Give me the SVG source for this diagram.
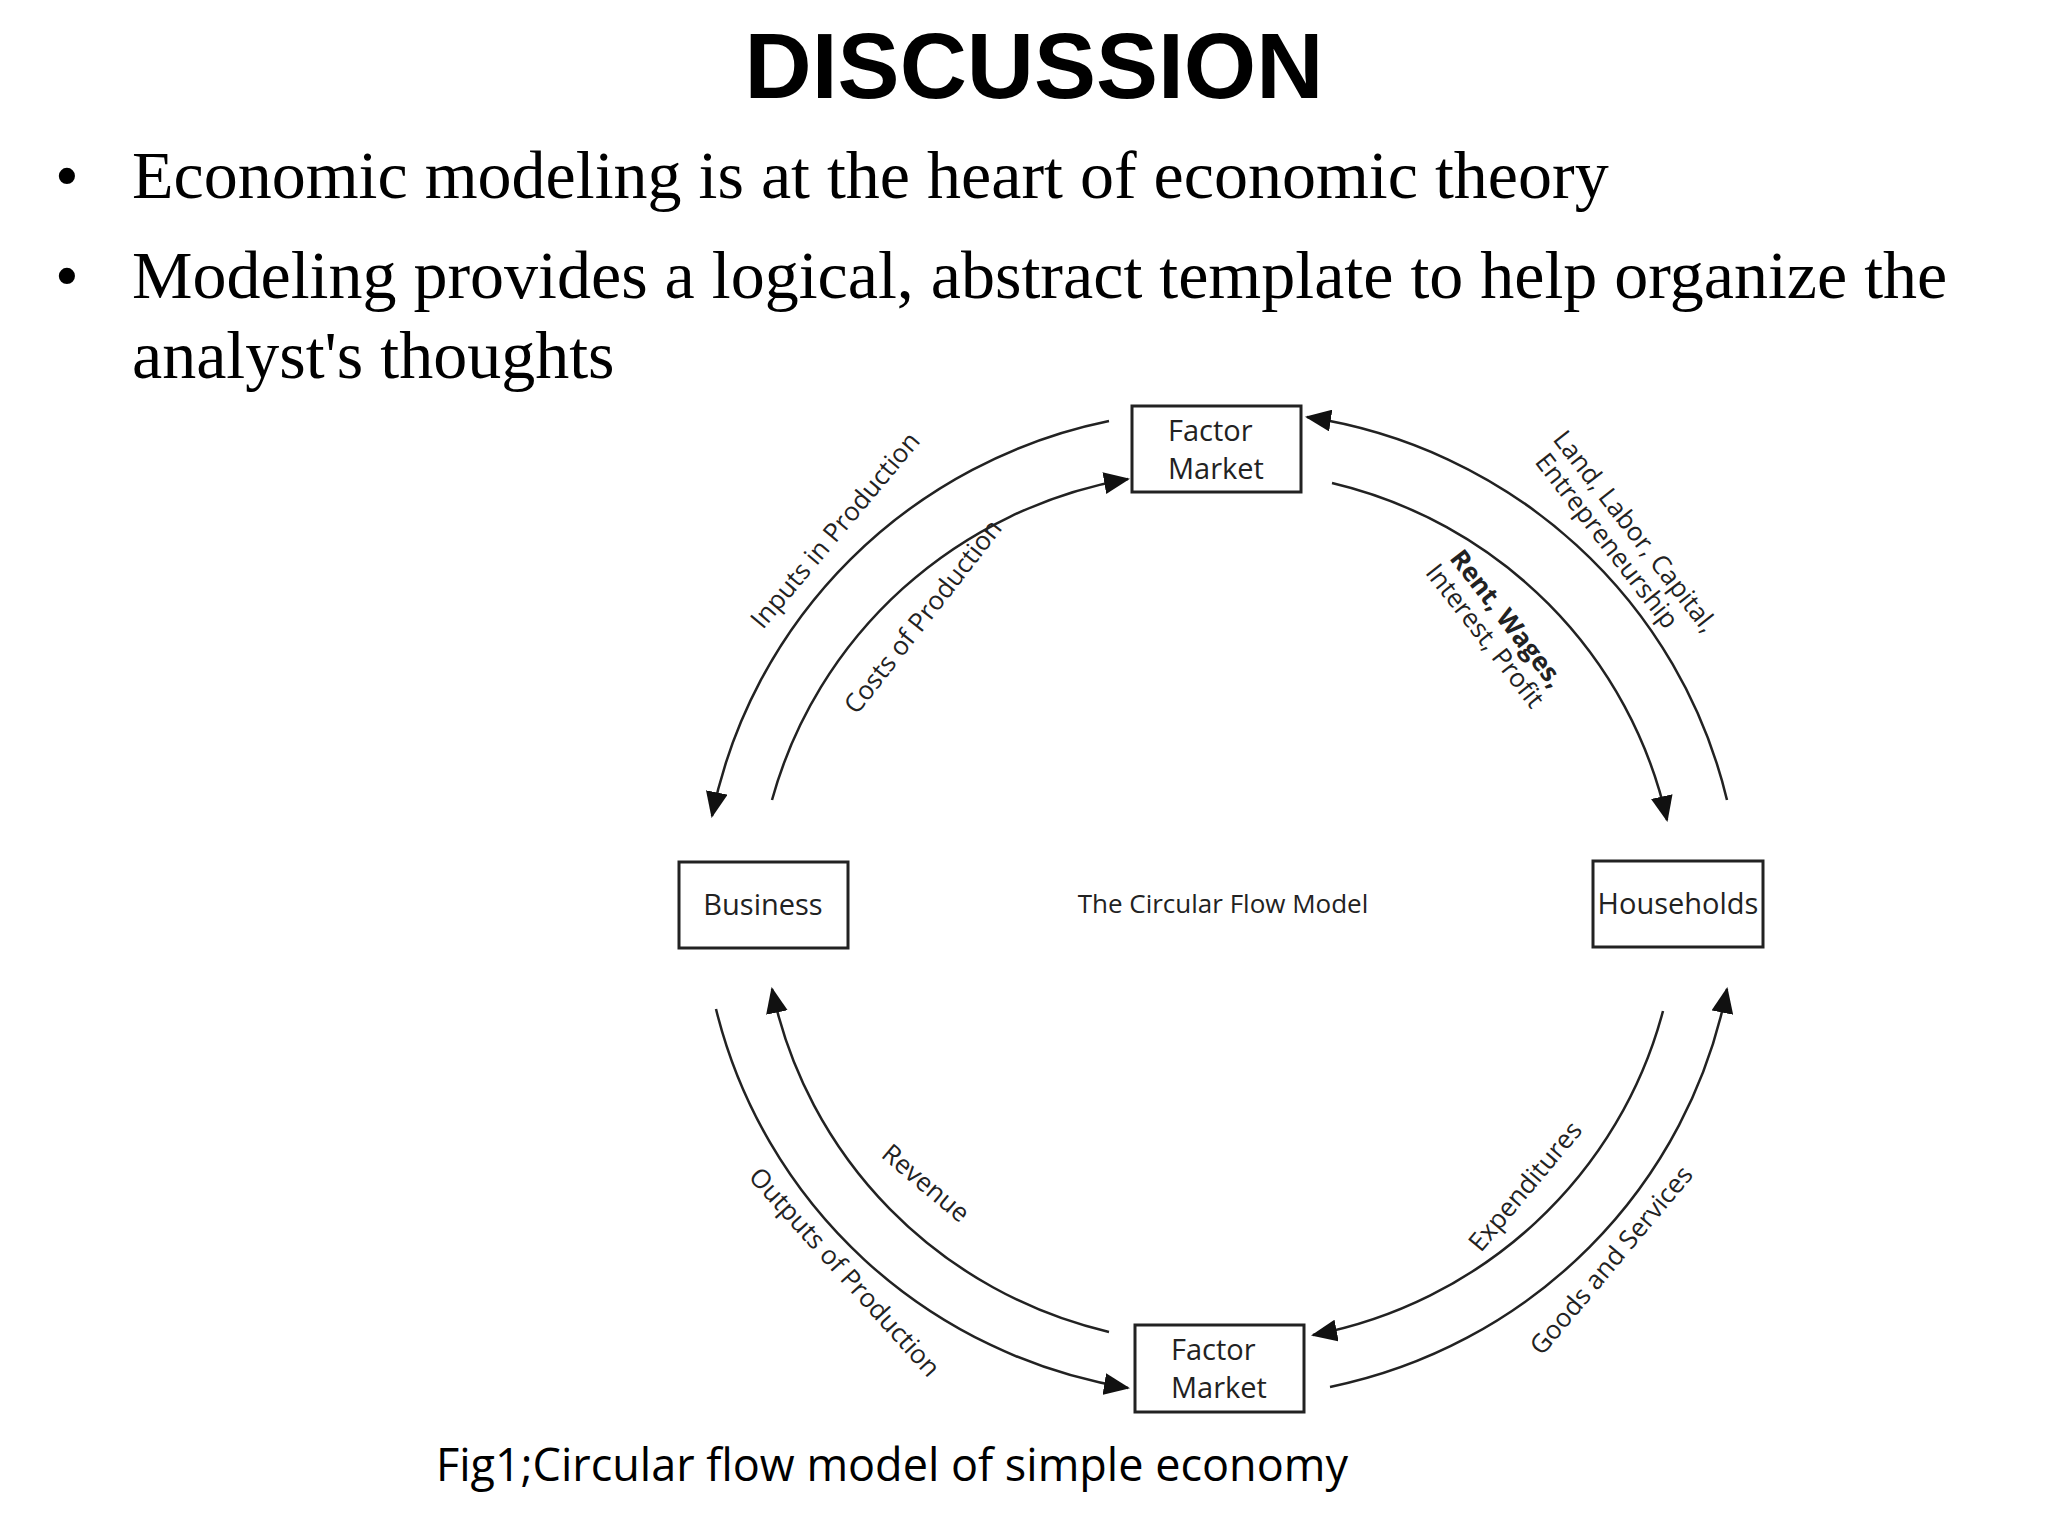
<svg xmlns="http://www.w3.org/2000/svg" width="2048" height="1536" viewBox="0 0 2048 1536">
<style>
.box{fill:#fff;stroke:#222;stroke-width:3}
.bt{font-family:"Open Sans","Liberation Sans",sans-serif;font-size:29px;fill:#222}
.lb{font-family:"Open Sans","Liberation Sans",sans-serif;font-size:26px;fill:#222;text-anchor:middle}
.arc{fill:none;stroke:#222;stroke-width:2.5;marker-end:url(#ah)}
.ser{font-family:"Liberation Serif",serif;font-size:68px;fill:#000}
</style>
<defs>
<marker id="ah" markerUnits="userSpaceOnUse" markerWidth="26" markerHeight="22" refX="24" refY="11" orient="auto">
<path d="M0,0 L26,11 L0,22 Z" fill="#111"/>
</marker>
</defs>
<rect width="2048" height="1536" fill="#fff"/>
<text x="1034" y="98" text-anchor="middle" font-family="Liberation Sans, sans-serif" font-weight="bold" font-size="93">DISCUSSION</text>
<text class="ser" x="55" y="198">•</text>
<text class="ser" x="132" y="198">Economic modeling is at the heart of economic theory</text>
<text class="ser" x="55" y="298">•</text>
<text class="ser" x="132" y="298">Modeling provides a logical, abstract template to help organize the</text>
<text class="ser" x="132" y="378">analyst's thoughts</text>
<g transform="translate(-8,-6)">
<g id="connectors">
<path class="arc" d="M1117,427 A510,505 0 0 0 720,822"/>
<path class="arc" d="M780,806 A450,445 0 0 1 1136,485"/>
<path class="arc" d="M1735,806 A510,505 0 0 0 1315,423"/>
<path class="arc" d="M1340,489 A450,445 0 0 1 1675,826"/>
<path class="arc" d="M724,1015 A510,505 0 0 0 1136,1394"/>
<path class="arc" d="M1117,1338 A450,445 0 0 1 780,995"/>
<path class="arc" d="M1671,1017 A450,445 0 0 1 1321,1341"/>
<path class="arc" d="M1338,1393 A510,505 0 0 0 1735,995"/>
</g>
<g id="labels">
<text class="lb" transform="translate(850,542) rotate(-50)">Inputs in Production</text>
<text class="lb" transform="translate(938,628) rotate(-52)">Costs of Production</text>
<text class="lb" transform="translate(1630,535) rotate(52)"><tspan x="10" y="0">Land, Labor, Capital,</tspan><tspan x="0" y="28">Entrepreneurship</tspan></text>
<text class="lb" transform="translate(1508,630) rotate(52)" font-weight="bold"><tspan x="0" y="0">Rent, Wages,</tspan><tspan x="0" y="28" font-weight="normal">Interest, Profit</tspan></text>
<text class="lb" transform="translate(846,1284) rotate(48)">Outputs of Production</text>
<text class="lb" transform="translate(928,1196) rotate(40)">Revenue</text>
<text class="lb" transform="translate(1540,1198) rotate(-50)">Expenditures</text>
<text class="lb" transform="translate(1626,1272) rotate(-50)">Goods and Services</text>
<text class="lb" x="1231" y="919" font-size="28">The Circular Flow Model</text>
</g>
<g id="factor-top"><rect class="box" x="1140" y="412" width="169" height="86"/><text class="bt" x="1176" y="447">Factor</text><text class="bt" x="1176" y="485">Market</text></g>
<g id="business"><rect class="box" x="687" y="868" width="169" height="86"/><text class="bt" x="771" y="921" text-anchor="middle">Business</text></g>
<g id="households"><rect class="box" x="1601" y="867" width="170" height="86"/><text class="bt" x="1686" y="920" text-anchor="middle">Households</text></g>
<g id="factor-bottom"><rect class="box" x="1143" y="1331" width="169" height="87"/><text class="bt" x="1179" y="1366">Factor</text><text class="bt" x="1179" y="1404">Market</text></g>
</g>
<text x="436" y="1481" font-family="Open Sans, Liberation Sans, sans-serif" font-size="45" fill="#000">Fig1;Circular flow model of simple economy</text>
</svg>
